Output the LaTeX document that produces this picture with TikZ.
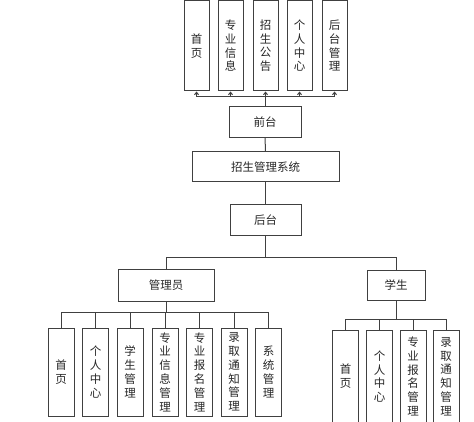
\documentclass[tikz,border=0pt]{standalone}
\usepackage{fontspec}
\newfontfamily\cjk{Noto Sans CJK SC}
\usetikzlibrary{arrows.meta}

\begin{document}
\begin{tikzpicture}[x=1pt,y=-1pt,
    box/.style={draw=black!75,line width=1pt,inner sep=0pt,align=center,
        font=\cjk\fontsize{11.5}{13.8}\selectfont,text=black!85},
    tall/.style={box,minimum width=25pt,minimum height=#1},
    wire/.style={draw=black!75,line width=1pt}]
    \useasboundingbox (0,0) rectangle (474,422);
    \def\tbus{97}  % bus under the front pages
    \def\mbus{258} % bus under the back end
    \def\abus{312} % bus under the admin
    \def\sbus{319} % bus under the student
    % Main column
    \node[box,minimum width=72pt,minimum height=31pt] (qt) at (265,122) {前台};
    \node[box,minimum width=147pt,minimum height=30pt] (xt) at (265.5,167) {招生管理系统};
    \node[box,minimum width=71pt,minimum height=31pt] (ht) at (265.5,220.5) {后台};
    \node[box,minimum width=96pt,minimum height=31pt] (gly) at (166,285.5) {管理员};
    \node[box,minimum width=58pt,minimum height=30pt] (xs) at (396,285.5) {学生};
    % Front pages
    \foreach \x/\t [count=\i] in {196.5/首\\页,230.5/专\\业\\信\\息,265.5/招\\生\\公\\告,
            299.5/个\\人\\中\\心,334.5/后\\台\\管\\理}
        \node[tall=90.5pt] (t\i) at (\x,45.75) {\t};
    % Admin pages
    \foreach \x/\t [count=\i] in {61/首\\页,95.5/个\\人\\中\\心,130/学\\生\\管\\理,
            165/专\\业\\信\\息\\管\\理,199.5/专\\业\\报\\名\\管\\理,
            234/录\\取\\通\\知\\管\\理,268.5/系\\统\\管\\理}
        \node[tall=88pt,minimum width=26pt] (a\i) at (\x,372) {\t};
    % Student pages
    \foreach \x/\t [count=\i] in {345.5/首\\页,379.5/个\\人\\中\\心,
            413/专\\业\\报\\名\\管\\理,446/录\\取\\通\\知\\管\\理}
        \node[tall=93pt,minimum width=26pt] (s\i) at (\x,376.5) {\t};
    % Connectors
    \draw[wire] (qt.north) -- (qt.north |- 0,\tbus);
    \draw[wire] (t1.south |- 0,\tbus) -- (t5.south |- 0,\tbus);
    \foreach \i in {1,...,5}
        \draw[wire,-{Straight Barb[length=2.5pt,width=4pt]}] (t\i.south |- 0,\tbus) -- (t\i.south);
    \draw[wire] (qt) -- (xt);
    \draw[wire] (xt) -- (ht);
    \draw[wire] (ht.south) -- (ht.south |- 0,\mbus);
    \draw[wire] (gly.north) -- (gly.north |- 0,\mbus) -- (xs.north |- 0,\mbus) -- (xs.north);
    \draw[wire] (gly.south) -- (gly.south |- 0,\abus);
    \draw[wire] (a1.north |- 0,\abus) -- (a7.north |- 0,\abus);
    \foreach \i in {1,...,7}
        \draw[wire] (a\i.north |- 0,\abus) -- (a\i.north);
    \draw[wire] (xs.south) -- (xs.south |- 0,\sbus);
    \draw[wire] (s1.north |- 0,\sbus) -- (s4.north |- 0,\sbus);
    \foreach \i in {1,...,4}
        \draw[wire] (s\i.north |- 0,\sbus) -- (s\i.north);
\end{tikzpicture}
\end{document}
